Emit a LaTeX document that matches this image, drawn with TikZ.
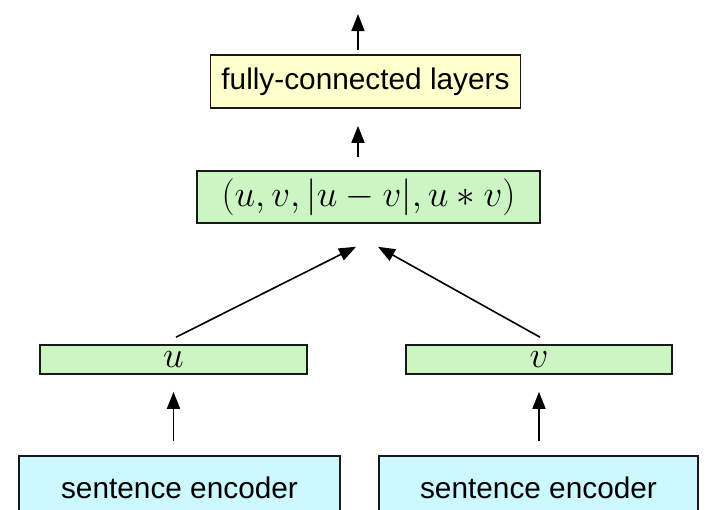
\RequirePackage{fix-cm}
\documentclass[tikz,border=0pt]{standalone}
\usepackage{fontspec}
\setmainfont{Liberation Sans}
\usetikzlibrary{arrows.meta}

\definecolor{fcyellow}{RGB}{255,255,204}
\definecolor{featgreen}{RGB}{204,245,196}
\definecolor{enccyan}{RGB}{204,248,255}

\tikzset{
  box/.style={draw=black!90,line width=1.6pt,inner sep=0pt,
    font=\fontsize{29.8}{34}\selectfont},
  mathbox/.style={box,fill=featgreen,font=\fontsize{37}{42}\selectfont},
  arr/.style={line width=1.6pt,-{Triangle[length=17pt,width=13pt]}}
}

\begin{document}
\begin{tikzpicture}[x=1pt,y=-1pt]
        \useasboundingbox (0,0) rectangle (720,509);

        \node[box,fill=fcyellow,minimum width=310pt,minimum height=53pt] (fc) at (365.5,81.5) {fully-connected layers};
        \node[mathbox,minimum width=343pt,minimum height=52pt] (feat) at (368.5,197) {$(u, v, |u-v|, u*v)$};
        \node[mathbox,minimum width=267pt,minimum height=29pt] (u) at (173.5,359.5) {$u$};
        \node[mathbox,minimum width=266pt,minimum height=29pt] (v) at (539,359.5) {$v$};
        \node[box,fill=enccyan,minimum width=321pt,minimum height=64pt] (encu) at (179.5,488) {sentence encoder};
        \node[box,fill=enccyan,minimum width=319pt,minimum height=64pt] (encv) at (538.5,488) {sentence encoder};
        \coordinate (out) at (358,14);

        \draw[arr,shorten <=4pt] (fc.north -| out) -- (out);
        \draw[arr,shorten <=13pt,shorten >=17pt] (feat.north -| out) -- (fc.south -| out);
        \draw[arr] ([shift={(2.5pt,7pt)}]u.north) -- ([shift={(-12.5pt,-23pt)}]feat.south);
        \draw[arr] ([shift={(1pt,7pt)}]v.north) -- ([shift={(9.5pt,-23pt)}]feat.south);
        \draw[arr,shorten <=14pt,shorten >=17pt] (encu.north -| u) -- (u.south);
        \draw[arr,shorten <=14pt,shorten >=17pt] (encv.north -| v) -- (v.south);
      \end{tikzpicture}
\end{document}
